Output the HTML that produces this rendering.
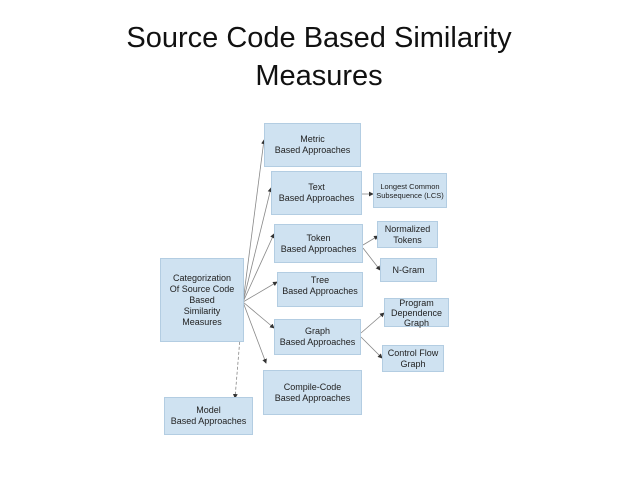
<!DOCTYPE html>
<html><head><style>
body{margin:0;width:638px;height:478px;background:#fff;position:relative;overflow:hidden;font-family:"Liberation Sans",sans-serif}
.t{position:absolute;left:0;width:638px;text-align:center;font-size:29px;color:#111}
.b{position:absolute;background:#cfe2f1;border:1px solid #b3cde2;box-sizing:border-box;display:flex;align-items:center;justify-content:center;text-align:center;font-size:9px;line-height:11px;color:#222}
</style></head><body>
<div class="t" style="top:22px">Source Code Based Similarity</div>
<div class="t" style="top:60px">Measures</div>
<svg width="638" height="478" style="position:absolute;left:0;top:0">
<defs><marker id="a" markerWidth="6" markerHeight="6" refX="5" refY="3" orient="auto"><path d="M0,0L6,3L0,6z" fill="#333"/></marker></defs>
<g stroke="#888" stroke-width="0.8" fill="none" marker-end="url(#a)">
<line x1="243" y1="302" x2="264" y2="140"/>
<line x1="243" y1="302" x2="271" y2="188"/>
<line x1="243" y1="302" x2="274" y2="234"/>
<line x1="243" y1="302" x2="277" y2="282"/>
<line x1="243" y1="302" x2="274" y2="328"/>
<line x1="243" y1="302" x2="266" y2="363"/>
<line x1="243" y1="302" x2="235" y2="398" stroke-dasharray="3,2"/>
<line x1="362" y1="194" x2="373" y2="194"/>
<line x1="363" y1="245" x2="378" y2="236"/>
<line x1="363" y1="248" x2="380" y2="270"/>
<line x1="361" y1="333" x2="384" y2="313"/>
<line x1="361" y1="337" x2="382" y2="358"/>
</g></svg>
<div class="b" style="left:264px;top:123px;width:97px;height:44px">Metric<br>Based Approaches</div>
<div class="b" style="left:271px;top:171px;width:91px;height:44px">Text<br>Based Approaches</div>
<div class="b" style="left:373px;top:173px;width:74px;height:35px;font-size:7.5px;line-height:9px">Longest Common<br>Subsequence (LCS)</div>
<div class="b" style="left:274px;top:224px;width:89px;height:39px">Token<br>Based Approaches</div>
<div class="b" style="left:377px;top:221px;width:61px;height:27px">Normalized<br>Tokens</div>
<div class="b" style="left:380px;top:258px;width:57px;height:24px">N-Gram</div>
<div class="b" style="left:277px;top:272px;width:86px;height:35px;align-items:flex-start;padding-top:2px">Tree<br>Based Approaches</div>
<div class="b" style="left:160px;top:258px;width:84px;height:84px">Categorization<br>Of Source Code<br>Based<br>Similarity<br>Measures</div>
<div class="b" style="left:384px;top:298px;width:65px;height:29px;line-height:10px">Program<br>Dependence<br>Graph</div>
<div class="b" style="left:274px;top:319px;width:87px;height:36px">Graph<br>Based Approaches</div>
<div class="b" style="left:382px;top:345px;width:62px;height:27px">Control Flow<br>Graph</div>
<div class="b" style="left:263px;top:370px;width:99px;height:45px">Compile-Code<br>Based Approaches</div>
<div class="b" style="left:164px;top:397px;width:89px;height:38px">Model<br>Based Approaches</div>
</body></html>
